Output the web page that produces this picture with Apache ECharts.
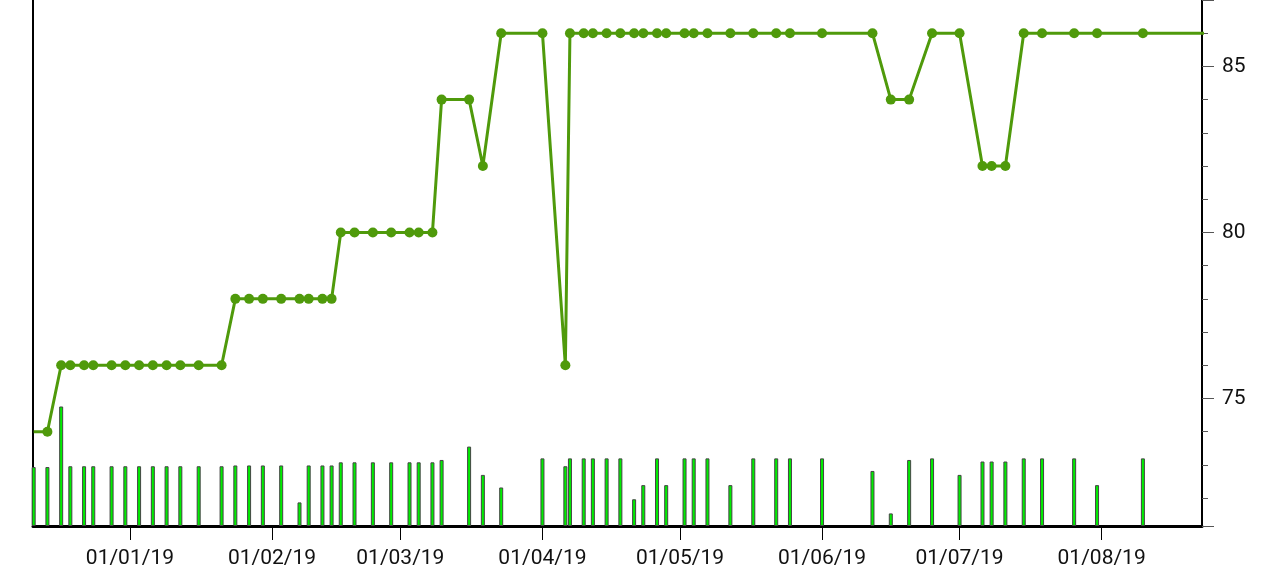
<!DOCTYPE html>
<html><head><meta charset="utf-8">
<script src="https://cdn.jsdelivr.net/npm/echarts@6/dist/echarts.min.js"></script>
<style>html,body{margin:0;padding:0;background:#fff}#c{width:1280px;height:583px}</style>
</head><body><div id="c"></div>
<script>
const dates = ['2018-12-11','2018-12-14','2018-12-17','2018-12-19','2018-12-22','2018-12-24','2018-12-28','2018-12-31',
  '2019-01-03','2019-01-06','2019-01-09','2019-01-12','2019-01-16','2019-01-21','2019-01-24','2019-01-27','2019-01-30',
  '2019-02-03','2019-02-07','2019-02-09','2019-02-12','2019-02-14','2019-02-16','2019-02-19','2019-02-23','2019-02-27',
  '2019-03-03','2019-03-05','2019-03-08','2019-03-10','2019-03-16','2019-03-19','2019-03-23',
  '2019-04-01','2019-04-06','2019-04-07','2019-04-10','2019-04-12','2019-04-15','2019-04-18','2019-04-21','2019-04-23','2019-04-26','2019-04-28',
  '2019-05-02','2019-05-04','2019-05-07','2019-05-12','2019-05-17','2019-05-22','2019-05-25',
  '2019-06-01','2019-06-12','2019-06-16','2019-06-20','2019-06-25',
  '2019-07-01','2019-07-06','2019-07-08','2019-07-11','2019-07-15','2019-07-19','2019-07-26','2019-07-31',
  '2019-08-10','2019-08-27'];
const scores = [74,74,76,76,76,76,76,76,
  76,76,76,76,76,76,78,78,78,
  78,78,78,78,78,80,80,80,80,
  80,80,80,84,84,82,86,
  86,76,86,86,86,86,86,86,86,86,86,
  86,86,86,86,86,86,86,
  86,86,84,84,86,
  86,82,82,82,86,86,86,86,
  86,86];
const bars = [75,75,152,76,76,76,76,76,
  76,76,76,76,76,76,77,77,77,
  77,30,77,77,77,81,81,81,81,
  81,81,81,84,101,65,49,
  86,76,86,86,86,86,86,34,52,86,52,
  86,86,86,52,86,86,86,
  86,70,16,84,86,
  65,82,82,82,86,86,86,52,
  86,86];
const yTickValues = [75, 80, 85];

const xMin = new Date(2018, 11, 11, 7).getTime();
const xMax = new Date(2019, 7, 22, 11).getTime();
const toTime = s => { const p = s.split('-').map(Number); return new Date(p[0], p[1] - 1, p[2]).getTime(); };

const chart = echarts.init(document.getElementById('c'), null, {renderer: 'canvas'});
chart.setOption({
  animation: false,
  backgroundColor: '#ffffff',
  grid: {left: 33, right: 78, top: 0, bottom: 57, containLabel: false},
  xAxis: {
    type: 'time',
    min: xMin,
    max: xMax,
    splitNumber: 8,
    axisLine: {onZero: false, lineStyle: {color: '#000', width: 3}},
    axisTick: {show: true, length: 14, lineStyle: {color: '#000', width: 1}},
    axisLabel: {formatter: '{dd}/{MM}/{yy}', fontSize: 21, margin: 22, color: '#111', fontFamily: 'Roboto'},
    splitLine: {show: false}
  },
  yAxis: [{
    type: 'value',
    position: 'right',
    min: 71.16,
    max: 87,
    splitNumber: 3,
    axisLine: {show: true, lineStyle: {color: '#000', width: 2}},
    axisTick: {show: true, length: 12, lineStyle: {color: '#555', width: 1}},
    minorTick: {show: true, splitNumber: 5, length: 6, lineStyle: {color: '#555', width: 1}},
    splitLine: {show: false},
    axisLabel: {
      showMinLabel: false, showMaxLabel: false, margin: 20, fontSize: 21, color: '#111', fontFamily: 'Roboto',
      formatter: v => yTickValues.includes(Math.round(v * 100) / 100) ? String(v) : ''
    }
  }, {
    type: 'value',
    position: 'left',
    min: 0,
    max: 669,
    axisLine: {show: true, lineStyle: {color: '#000', width: 2}},
    axisTick: {show: false},
    axisLabel: {show: false},
    splitLine: {show: false}
  }],
  series: [{
    type: 'bar',
    yAxisIndex: 1,
    data: dates.map((d, i) => [d, bars[i]]),
    barWidth: 4,
    itemStyle: {color: '#00ee00', borderColor: '#444444', borderWidth: 1},
    z: 2
  }, {
    type: 'line',
    yAxisIndex: 0,
    data: dates.map((d, i) => {
      const t = toTime(d);
      const inside = t >= xMin && t <= xMax;
      return inside ? [d, scores[i]] : {value: [d, scores[i]], symbol: 'none'};
    }),
    symbol: 'circle',
    symbolSize: 10,
    showAllSymbol: true,
    lineStyle: {color: '#4f9a0b', width: 3},
    itemStyle: {color: '#4f9a0b'},
    z: 3
  }]
});
</script>
</body></html>
